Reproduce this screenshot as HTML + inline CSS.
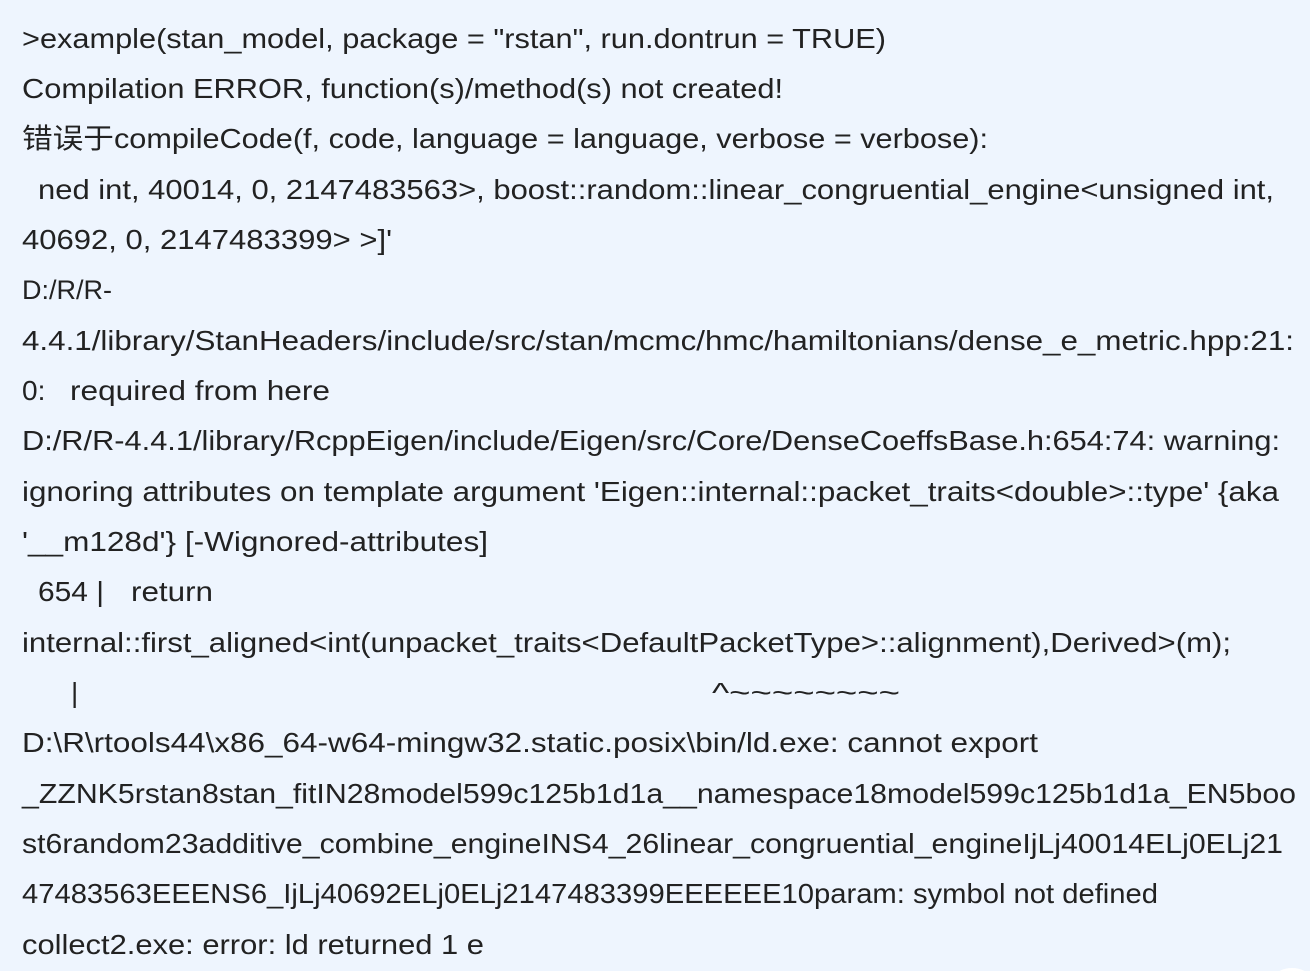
<!DOCTYPE html>
<html><head><meta charset="utf-8"><style>
html,body{margin:0;padding:0;background:#eef5fe;width:1310px;height:971px;overflow:hidden;}
svg{display:block}
text{font-family:"Liberation Sans","Noto Sans CJK SC",sans-serif;font-size:28px;fill:#222;}
</style></head><body>
<svg width="1310" height="971" xmlns="http://www.w3.org/2000/svg">
<rect width="1310" height="971" fill="#eef5fe"/>
<path d="M1279.4 971 A28 28 0 0 1 1304.6 971 Z" fill="#fff"/>
<text x="22" y="48" textLength="864" lengthAdjust="spacingAndGlyphs">&gt;example(stan_model, package = "rstan", run.dontrun = TRUE)</text>
<text x="22" y="98" textLength="761" lengthAdjust="spacingAndGlyphs">Compilation ERROR, function(s)/method(s) not created!</text>
<text x="22" y="148" textLength="966" lengthAdjust="spacingAndGlyphs">错误于compileCode(f, code, language = language, verbose = verbose):</text>
<text x="38" y="199" textLength="1236" lengthAdjust="spacingAndGlyphs">ned int, 40014, 0, 2147483563&gt;, boost::random::linear_congruential_engine&lt;unsigned int,</text>
<text x="22" y="249" textLength="370" lengthAdjust="spacingAndGlyphs">40692, 0, 2147483399&gt; &gt;]'</text>
<text x="22" y="299" style="font-size:27px">D:/R/R-</text>
<text x="22" y="350" textLength="1272" lengthAdjust="spacingAndGlyphs">4.4.1/library/StanHeaders/include/src/stan/mcmc/hmc/hamiltonians/dense_e_metric.hpp:21:</text>
<text x="22" y="400">0:</text>
<text x="70" y="400" textLength="260" lengthAdjust="spacingAndGlyphs">required from here</text>
<text x="22" y="450" textLength="1258" lengthAdjust="spacingAndGlyphs">D:/R/R-4.4.1/library/RcppEigen/include/Eigen/src/Core/DenseCoeffsBase.h:654:74: warning:</text>
<text x="22" y="501" textLength="1257" lengthAdjust="spacingAndGlyphs">ignoring attributes on template argument 'Eigen::internal::packet_traits&lt;double&gt;::type' {aka</text>
<text x="22" y="551" textLength="466" lengthAdjust="spacingAndGlyphs">'__m128d'} [-Wignored-attributes]</text>
<text x="38" y="601" textLength="66" lengthAdjust="spacingAndGlyphs">654 |</text>
<text x="131" y="601" textLength="82" lengthAdjust="spacingAndGlyphs">return</text>
<text x="22" y="652" textLength="1209" lengthAdjust="spacingAndGlyphs">internal::first_aligned&lt;int(unpacket_traits&lt;DefaultPacketType&gt;::alignment),Derived&gt;(m);</text>
<text x="71" y="702">|</text>
<text x="712" y="702" textLength="188" lengthAdjust="spacingAndGlyphs">^~~~~~~~~</text>
<text x="22" y="752" textLength="1016" lengthAdjust="spacingAndGlyphs">D:\R\rtools44\x86_64-w64-mingw32.static.posix\bin/ld.exe: cannot export</text>
<text x="22" y="803" textLength="1274" lengthAdjust="spacingAndGlyphs">_ZZNK5rstan8stan_fitIN28model599c125b1d1a__namespace18model599c125b1d1a_EN5boo</text>
<text x="22" y="853" textLength="1261" lengthAdjust="spacingAndGlyphs">st6random23additive_combine_engineINS4_26linear_congruential_engineIjLj40014ELj0ELj21</text>
<text x="22" y="903" textLength="1136" lengthAdjust="spacingAndGlyphs">47483563EEENS6_IjLj40692ELj0ELj2147483399EEEEEE10param: symbol not defined</text>
<text x="22" y="954" textLength="462" lengthAdjust="spacingAndGlyphs">collect2.exe: error: ld returned 1 e</text>
</svg>
</body></html>
